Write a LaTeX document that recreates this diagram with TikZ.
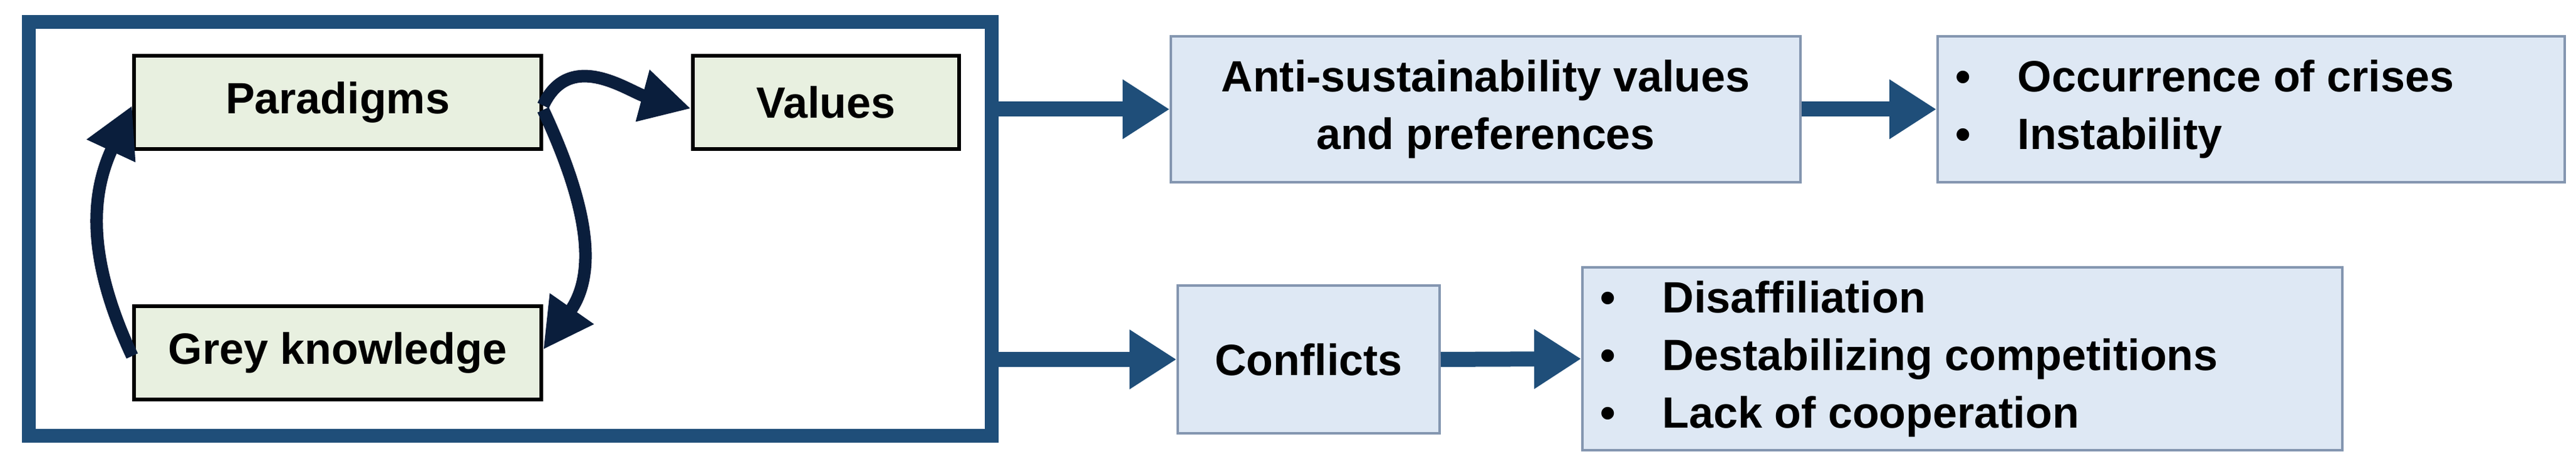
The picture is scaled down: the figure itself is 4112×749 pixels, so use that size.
\documentclass[tikz,border=0pt]{standalone}
\usepackage{fontspec}
\setmainfont{Liberation Sans}
\usetikzlibrary{arrows.meta,calc}
\definecolor{navy}{HTML}{0A1E3C}
\definecolor{bluearrow}{HTML}{1F4E79}
\definecolor{greenfill}{HTML}{E8F0E0}
\definecolor{bluefill}{HTML}{DEE8F4}
\definecolor{blueedge}{HTML}{8496B0}
\tikzset{
  txt/.style={font=\fontsize{70}{92}\selectfont\bfseries},
  gbox/.style={draw=black,line width=6pt,fill=greenfill,minimum height=149pt,inner sep=0pt,txt},
  bbox/.style={draw=blueedge,line width=4pt,fill=bluefill,inner sep=0pt,txt,align=center},
  barrow/.style={bluearrow,line width=24pt,-{Triangle[length=75pt,width=90pt]}},
  carrow/.style={navy,line width=20pt,-{Triangle[length=80pt,width=80pt]}},
}
\begin{document}
\begin{tikzpicture}[x=1pt,y=1pt]
\useasboundingbox (0,0) rectangle (4112,749);
\node[draw=bluearrow,line width=22pt,fill=white,minimum width=1537pt,minimum height=661pt,inner sep=0pt] (frame) at (814.5,383.5) {};
\node[gbox,minimum width=650pt] (par) at (539,585.5) {Paradigms};
\node[gbox,minimum width=425pt] (val) at (1318.5,585.5) {Values};
\node[gbox,minimum width=650pt] (grey) at (539,185.5) {Grey knowledge};
\node[bbox,minimum width=1005pt,minimum height=233pt] (anti) at (2371.5,574.5) {Anti-sustainability values\\and preferences};
\node[bbox,minimum width=1001pt,minimum height=233pt] (cri) at (3593.5,574.5) {};
\node[txt,anchor=west,align=left,inner sep=0pt] (critxt) at ([xshift=30pt]cri.west) {\textbullet\hspace{75pt}Occurrence of crises\\\textbullet\hspace{75pt}Instability};
\node[bbox,minimum width=418pt,minimum height=236pt] (conf) at (2089,175) {Conflicts};
\node[bbox,minimum width=1213pt,minimum height=292pt] (lst) at (3132.5,176) {};
\node[txt,anchor=west,align=left,inner sep=0pt] (lsttxt) at ([xshift=30pt]lst.west) {\textbullet\hspace{75pt}Disaffiliation\\\textbullet\hspace{75pt}Destabilizing competitions\\\textbullet\hspace{75pt}Lack of cooperation};
\draw[barrow] (frame.east|-anti.west) -- (anti.west);
\draw[barrow] (anti.east) -- (cri.west);
\draw[barrow] (frame.east|-conf.west) -- (conf.west);
\draw[barrow] (conf.east) -- (lst.west);
\draw[carrow] ([yshift=-5pt]par.east) to[out=65,in=165,looseness=1.1] ([yshift=-10pt]val.west);
\draw[carrow] ([yshift=-12pt]par.east) to[out=-65,in=55,looseness=1.05] ([yshift=5pt]grey.east);
\draw[carrow] ([yshift=-5pt]grey.west) to[out=115,in=-115,looseness=1.05] ([yshift=-5pt]par.west);
\end{tikzpicture}
\end{document}
